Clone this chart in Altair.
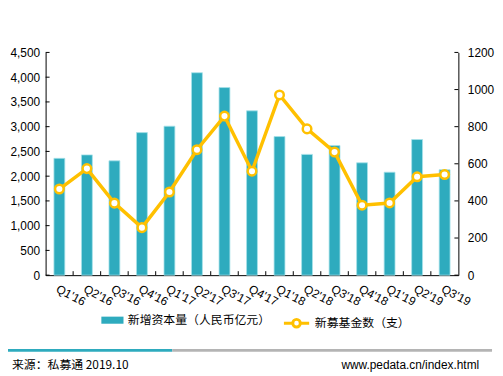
import altair as alt
import pandas as pd

quarters = ["Q1'16", "Q2'16", "Q3'16", "Q4'16", "Q1'17", "Q2'17", "Q3'17", "Q4'17",
            "Q1'18", "Q2'18", "Q3'18", "Q4'18", "Q1'19", "Q2'19", "Q3'19"]
capital = [2360, 2430, 2310, 2880, 3010, 4090, 3790, 3320,
           2800, 2440, 2620, 2270, 2080, 2740, 2130]
funds = [464, 574, 388, 256, 448, 676, 857, 560,
         971, 788, 663, 377, 389, 530, 542]
left_ticks = [0, 500, 1000, 1500, 2000, 2500, 3000, 3500, 4000, 4500]
right_ticks = [0, 200, 400, 600, 800, 1000, 1200]

bar_name = "新增资本量（人民币亿元）"
line_name = "新募基金数（支）"
source_text = "来源：私募通 2019.10"
url_text = "www.pedata.cn/index.html"

TEAL = "#2eabbe"
GOLD = "#ffc000"
NUM_FONT = "Liberation Sans"
CJK_FONT = "Noto Sans CJK SC"
W, H = 417, 225
STEP = W / len(quarters)

df = pd.DataFrame({"q": quarters, "capital": capital, "funds": funds})
lt = pd.DataFrame({"v": left_ticks})
rt = pd.DataFrame({"v": right_ticks})
xt = pd.DataFrame({"q": quarters[:-1]})

xscale = alt.Scale(paddingInner=0.6, paddingOuter=0.3)
x_axis = alt.Axis(labelAngle=28, labelAlign="left", labelBaseline="top",
                  ticks=False, domainColor="#000",
                  labelFont=NUM_FONT, labelFontSize=12, labelColor="#000",
                  labelPadding=8, labelOffset=0)
xenc = alt.X("q:N", sort=quarters, title=None, scale=xscale, axis=x_axis)

lscale = alt.Scale(domain=[0, 4500])
left_axis = alt.Axis(values=left_ticks, format=",.0f", grid=False,
                     domainColor="#000", ticks=False,
                     labelFont=NUM_FONT, labelFontSize=12, labelColor="#000",
                     labelPadding=6)

bars = alt.Chart(df).mark_bar(size=11, stroke="#a8e2ea", strokeWidth=0.8).encode(
    x=xenc,
    y=alt.Y("capital:Q", title=None, scale=lscale, axis=left_axis),
    color=alt.Color("series:N", scale=alt.Scale(domain=[bar_name], range=[TEAL]),
                    legend=alt.Legend(orient="none", legendX=56, legendY=259, title=None,
                                      symbolType="M-1,-0.32H1V0.32H-1Z", symbolSize=500,
                                      symbolStrokeWidth=0, labelFont=CJK_FONT,
                                      labelFontSize=12, labelColor="#000", padding=0))
).transform_calculate(series=f"'{bar_name}'")

lticks = alt.Chart(lt).mark_rule(color="#000", strokeWidth=1).encode(
    y=alt.Y("v:Q", title=None, scale=lscale, axis=left_axis),
    x=alt.value(0), x2=alt.value(4))

xticks = alt.Chart(xt).mark_rule(color="#000", strokeWidth=1, xOffset=STEP / 2).encode(
    x=alt.X("q:N", sort=quarters, title=None, axis=x_axis),
    y=alt.value(H - 4), y2=alt.value(H))

left_group = alt.layer(bars, lticks, xticks)

rscale = alt.Scale(domain=[0, 1200])
right_axis = alt.Axis(orient="right", values=right_ticks, format="d", grid=False,
                      domainColor="#000", ticks=False,
                      labelFont=NUM_FONT, labelFontSize=12, labelColor="#000",
                      labelPadding=9)
yR = alt.Y("funds:Q", title=None, scale=rscale, axis=right_axis)

line = alt.Chart(df).mark_line(strokeWidth=3.5).encode(
    x=alt.X("q:N", sort=quarters, title=None, axis=x_axis),
    y=yR,
    stroke=alt.Stroke("series:N", scale=alt.Scale(domain=[line_name], range=[GOLD]),
                      legend=alt.Legend(orient="none", legendX=239, legendY=259, title=None,
                                        symbolType="M-1,0H-0.3M0.3,0H1M-0.3,0A0.3,0.3 0 1,0 0.3,0A0.3,0.3 0 1,0 -0.3,0",
                                        symbolSize=650, symbolStrokeWidth=3,
                                        symbolFillColor="white",
                                        labelFont=CJK_FONT, labelFontSize=12,
                                        labelColor="#000", padding=0))
).transform_calculate(series=f"'{line_name}'")

points = alt.Chart(df).mark_point(filled=True, fill="white", stroke=GOLD,
                                  strokeWidth=2.5, size=75, opacity=1).encode(
    x=alt.X("q:N", sort=quarters, title=None, axis=x_axis),
    y=yR,
)

rticks = alt.Chart(rt).mark_rule(color="#000", strokeWidth=1).encode(
    y=alt.Y("v:Q", title=None, scale=rscale, axis=right_axis),
    x=alt.value(W - 4), x2=alt.value(W))

right = alt.layer(line, points, rticks)

one = alt.Data(values=[{"a": 1}])
rule_teal = alt.Chart(one).mark_rule(color=TEAL, strokeWidth=3).encode(
    x=alt.value(-38), x2=alt.value(128), y=alt.value(301))
rule_gray = alt.Chart(one).mark_rule(color="#b4b4b4", strokeWidth=3).encode(
    x=alt.value(128), x2=alt.value(451), y=alt.value(301))
src = alt.Chart(one).mark_text(align="left", baseline="alphabetic", font=CJK_FONT,
                               fontSize=12, color="#000").encode(
    x=alt.value(-34), y=alt.value(320), text=alt.value(source_text))
url = alt.Chart(one).mark_text(align="right", baseline="alphabetic", font=NUM_FONT,
                               fontSize=12, color="#000").encode(
    x=alt.value(438), y=alt.value(320), text=alt.value(url_text))

chart = alt.layer(left_group, right, rule_teal, rule_gray, src, url).resolve_scale(
    y="independent", color="independent"
).properties(
    width=W, height=H,
    autosize=alt.AutoSizeParams(type="none"),
    padding={"left": 38, "top": 43, "right": 37, "bottom": 100},
    background="white",
).configure_view(stroke=None)

chart.save("out.html", embed_options={"renderer": "svg", "actions": False})
